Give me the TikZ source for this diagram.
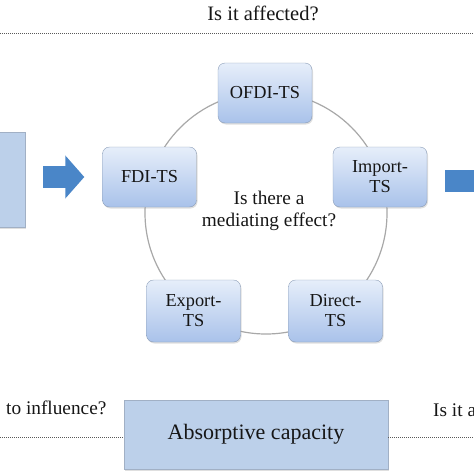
\documentclass[tikz,border=0pt]{standalone}
\usepackage{fontspec}
\setmainfont{Liberation Serif}
\usepackage{tikz}
\usetikzlibrary{arrows.meta,positioning,shadows}
\definecolor{boxtop}{HTML}{E6EEFA}
\definecolor{boxbot}{HTML}{A9C2EA}
\definecolor{boxline}{HTML}{8A9CB6}
\definecolor{flatfill}{HTML}{BCD0EA}
\definecolor{arrowblue}{HTML}{4A86C8}
\definecolor{ringgrey}{HTML}{A8A8A8}
\definecolor{inkblack}{HTML}{161616}
\tikzstyle{tsblock}=[draw=boxline, top color=boxtop, bottom color=boxbot, rounded corners=7pt, minimum width=94pt, minimum height=60pt, align=center, text=inkblack, font=\fontsize{18.3}{20}\selectfont, drop shadow={opacity=0.25, shadow xshift=1pt, shadow yshift=-1.5pt}]
\tikzstyle{flatblock}=[draw=boxline!80, fill=flatfill, rectangle, drop shadow={opacity=0.25, shadow xshift=1pt, shadow yshift=-1.5pt}]
\tikzstyle{question}=[text=inkblack, font=\fontsize{19.3}{22}\selectfont]
\tikzstyle{fatarrow}=[arrowblue, line width=22pt, -{Triangle[length=19pt, width=42pt]}, shorten <=18pt, shorten >=18pt]
\tikzstyle{divider}=[draw=black!65, dash pattern=on 1pt off 1pt, line width=0.9pt]

\begin{document}
\begin{tikzpicture}[x=1pt, y=-1pt]
    \useasboundingbox (0,0) rectangle (474,474);
    \clip (0,0) rectangle (474,474);
    % top question and divider
    \node [question, font=\fontsize{20.5}{22}\selectfont] (affected) at (263,13) {Is it affected?};
    \coordinate (topleft) at (0,33);
    \coordinate (topright) at (474,33);
    \draw [divider] (topleft) -- (topright);

    % ring of mediators
    \node [draw=ringgrey, line width=1.2pt, circle, minimum size=242pt] (ring) at (266,213) {};
    \node [question, align=center] (mediate) at (269,211) {Is there a\\mediating effect?};
    \node [tsblock] (ofdi) at (265,93) {OFDI-TS};
    \node [tsblock] (fdi) at (149.5,177) {FDI-TS};
    \node [tsblock] (import) at (380,177) {Import-\\TS};
    \node [tsblock, minimum height=62pt] (export) at (193.5,311) {Export-\\TS};
    \node [tsblock, minimum height=62pt] (direct) at (335.5,311) {Direct-\\TS};

    % side blocks and block arrows
    \node [flatblock, minimum width=40pt, minimum height=95pt] (source) at (5,179.5) {};
    \coordinate (rightend) at (508,181);
    \draw [fatarrow] (source.east |- fdi) -- (fdi.west);
    \draw [fatarrow, shorten >=0pt] (import.east |- rightend) -- (rightend);

    % bottom row
    \node [flatblock, minimum width=264pt, minimum height=69pt, font=\fontsize{22}{24}\selectfont, text=inkblack] (absorb) at (256,434.5) {Absorptive capacity};
    \coordinate (botleft) at (0,437);
    \coordinate (botright) at (474,437);
    \draw [divider] (botleft) -- (absorb.west |- botleft);
    \draw [divider] (absorb.east |- botright) -- (botright);
    \node [question, anchor=west, inner sep=0pt] (influence) at (6,408) {to influence?};
    \node [question, anchor=west, inner sep=0pt] (itis) at (433,410) {Is it a};
\end{tikzpicture}
\end{document}
